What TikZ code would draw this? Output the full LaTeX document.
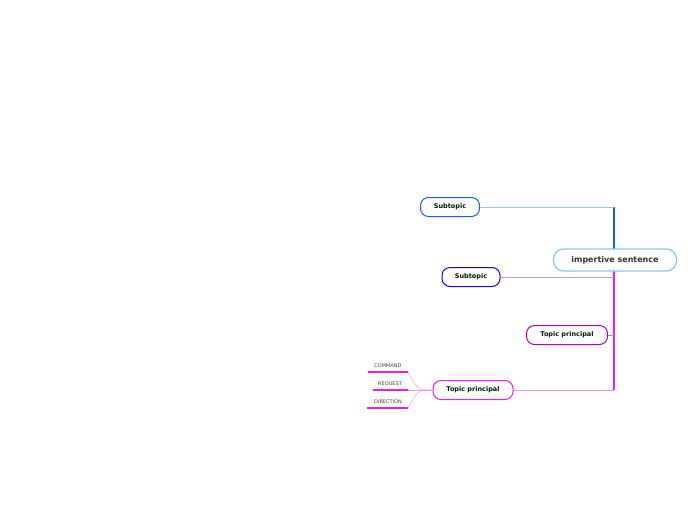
\documentclass[tikz,border=0pt]{standalone}
\usepackage{fontspec}
\setmainfont{DejaVu Sans}
\begin{document}
\begin{tikzpicture}[x=1pt,y=-1pt,
 topic/.style={draw,rounded corners=8pt,line width=1pt,fill=white,font=\bfseries\fontsize{6.5}{7}\selectfont,text=black!70!green!30!black,minimum height=19pt,inner xsep=0pt},
 leaf/.style={font=\fontsize{5}{6}\selectfont,text=black!75,inner sep=1pt}]
\useasboundingbox (0,0) rectangle (697,520);
\definecolor{cblue}{HTML}{1A5CF0}
\definecolor{cmag}{HTML}{F01AE0}
% trunk
\draw[cblue,line width=1.2pt] (614,207) -- (614,250);
\draw[cmag,line width=1.6pt] (614,270) -- (614,390);
\node[topic,draw=cblue!70!cyan!50,line width=1.2pt,minimum width=123pt,minimum height=22pt,rounded corners=10pt,font=\bfseries\fontsize{8}{9}\selectfont,text=black!80] (c) at (615,260) {impertive sentence};
\node[topic,draw=cblue,minimum width=59pt] (s1) at (450,207) {Subtopic};
\node[topic,draw=blue!70!violet,minimum width=58pt] (s2) at (471,277) {Subtopic};
\node[topic,draw=violet!60!magenta,minimum width=81pt] (t1) at (567,335) {Topic principal};
\node[topic,draw=cmag,minimum width=80pt] (t2) at (473,390) {Topic principal};
\draw[cblue!40] (s1.east) -- (614,207);
\draw[violet!40] (s2.east) -- (614,277);
\draw[violet!50] (t1.east) -- (614,335);
\draw[cmag!50] (t2.east) -- (614,390);
\node[leaf] (l1) at (388,366) {COMMAND};
\node[leaf] (l2) at (390,384) {REQUEST};
\node[leaf] (l3) at (388,402) {DIRECTION};
\draw[cmag,line width=1.2pt] (368,372) coordinate (a1) -- (408,372) coordinate (b1);
\draw[cmag,line width=1.2pt] (373,390) coordinate (a2) -- (408,390) coordinate (b2);
\draw[cmag,line width=1.2pt] (367,408) coordinate (a3) -- (408,408) coordinate (b3);
\draw[cmag!50] (t2.west) .. controls (418,390) .. (b1);
\draw[cmag!50] (t2.west) -- (b2);
\draw[cmag!50] (t2.west) .. controls (418,390) .. (b3);
\end{tikzpicture}
\end{document}
